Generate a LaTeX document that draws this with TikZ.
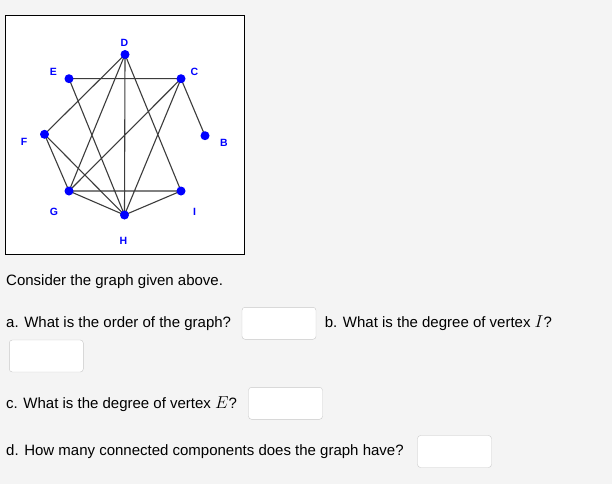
\documentclass[tikz,border=0pt]{standalone}
\usepackage{fontspec}
\setmainfont{Liberation Sans}
\definecolor{pagebg}{HTML}{F4F4F4}
\definecolor{vblue}{HTML}{0000FF}
\definecolor{edgegray}{HTML}{3C3C3C}
\definecolor{boxline}{HTML}{C8C8C8}
\newcommand{\bigvar}[1]{{\fontsize{17.28}{18}\selectfont$#1$}}
\tikzset{
  vlabel/.style={text=vblue, font=\fontsize{10.5}{10.5}\selectfont\bfseries, inner sep=0pt},
  question/.style={anchor=base west, inner sep=0pt, font=\fontsize{15}{18}\selectfont},
  ansbox/.style={draw=boxline, fill=white, rounded corners=3pt, minimum width=74pt, minimum height=32pt, inner sep=0pt},
  edge/.style={edgegray, line width=1.1pt},
}
\begin{document}
\begin{tikzpicture}[x=1pt, y=-1pt]
    \fill[pagebg] (0,0) rectangle (612,484);
    \useasboundingbox (0,0) rectangle (612,484);
    \draw[fill=white, line width=1.4pt] (5.5,15.5) rectangle (244.5,254.5);

    \coordinate (D) at (125,54.5);  \node[vlabel] (lD) at (124.5,42.5) {D};
    \coordinate (E) at (69,78.7);   \node[vlabel] (lE) at (53.5,72) {E};
    \coordinate (C) at (181,78.7);  \node[vlabel] (lC) at (194.5,71.5) {C};
    \coordinate (F) at (44.5,134.3); \node[vlabel] (lF) at (24,141.7) {F};
    \coordinate (B) at (205,135.7); \node[vlabel] (lB) at (224,142.7) {B};

    \coordinate (G) at (69,191);    \node[vlabel] (lG) at (54,212.3) {G};
    \coordinate (I) at (181,191);   \node[vlabel] (lI) at (194.5,212.3) {I};
    \coordinate (H) at (124.5,215); \node[vlabel] (lH) at (123.5,240.7) {H};

    % Edges
    \draw[edge] (E) -- (C) -- (B);
    \draw[edge] (E) -- (H) -- (D) -- (F) -- (G) -- (D) -- (I) -- (G) -- (C) -- (H);
    \draw[edge] (F) -- (H) -- (I);
    \draw[edge] (G) -- (H);

    \foreach \p in {B,C,D,E,F,G,H,I} \fill[vblue] (\p) circle (4.5pt);

    % Questions
    \node[question] (intro) at (6,285.7) {Consider the graph given above.};
    \node[question] (qa) at (6,327.3) {a. What is the order of the graph?};
    \node[ansbox] (ansa) at (279,323.3) {};
    \node[question] (qb) at (324.7,327.3) {b. What is the degree of vertex \bigvar{I}?};
    \node[ansbox] (ansb) at (46.3,356) {};
    \node[question] (qc) at (6,408.3) {c. What is the degree of vertex \bigvar{E}?};
    \node[ansbox] (ansc) at (285.5,403.3) {};
    \node[question] (qd) at (6,455.3) {d. How many connected components does the graph have?};
    \node[ansbox] (ansd) at (454.5,451.5) {};
\end{tikzpicture}
\end{document}
